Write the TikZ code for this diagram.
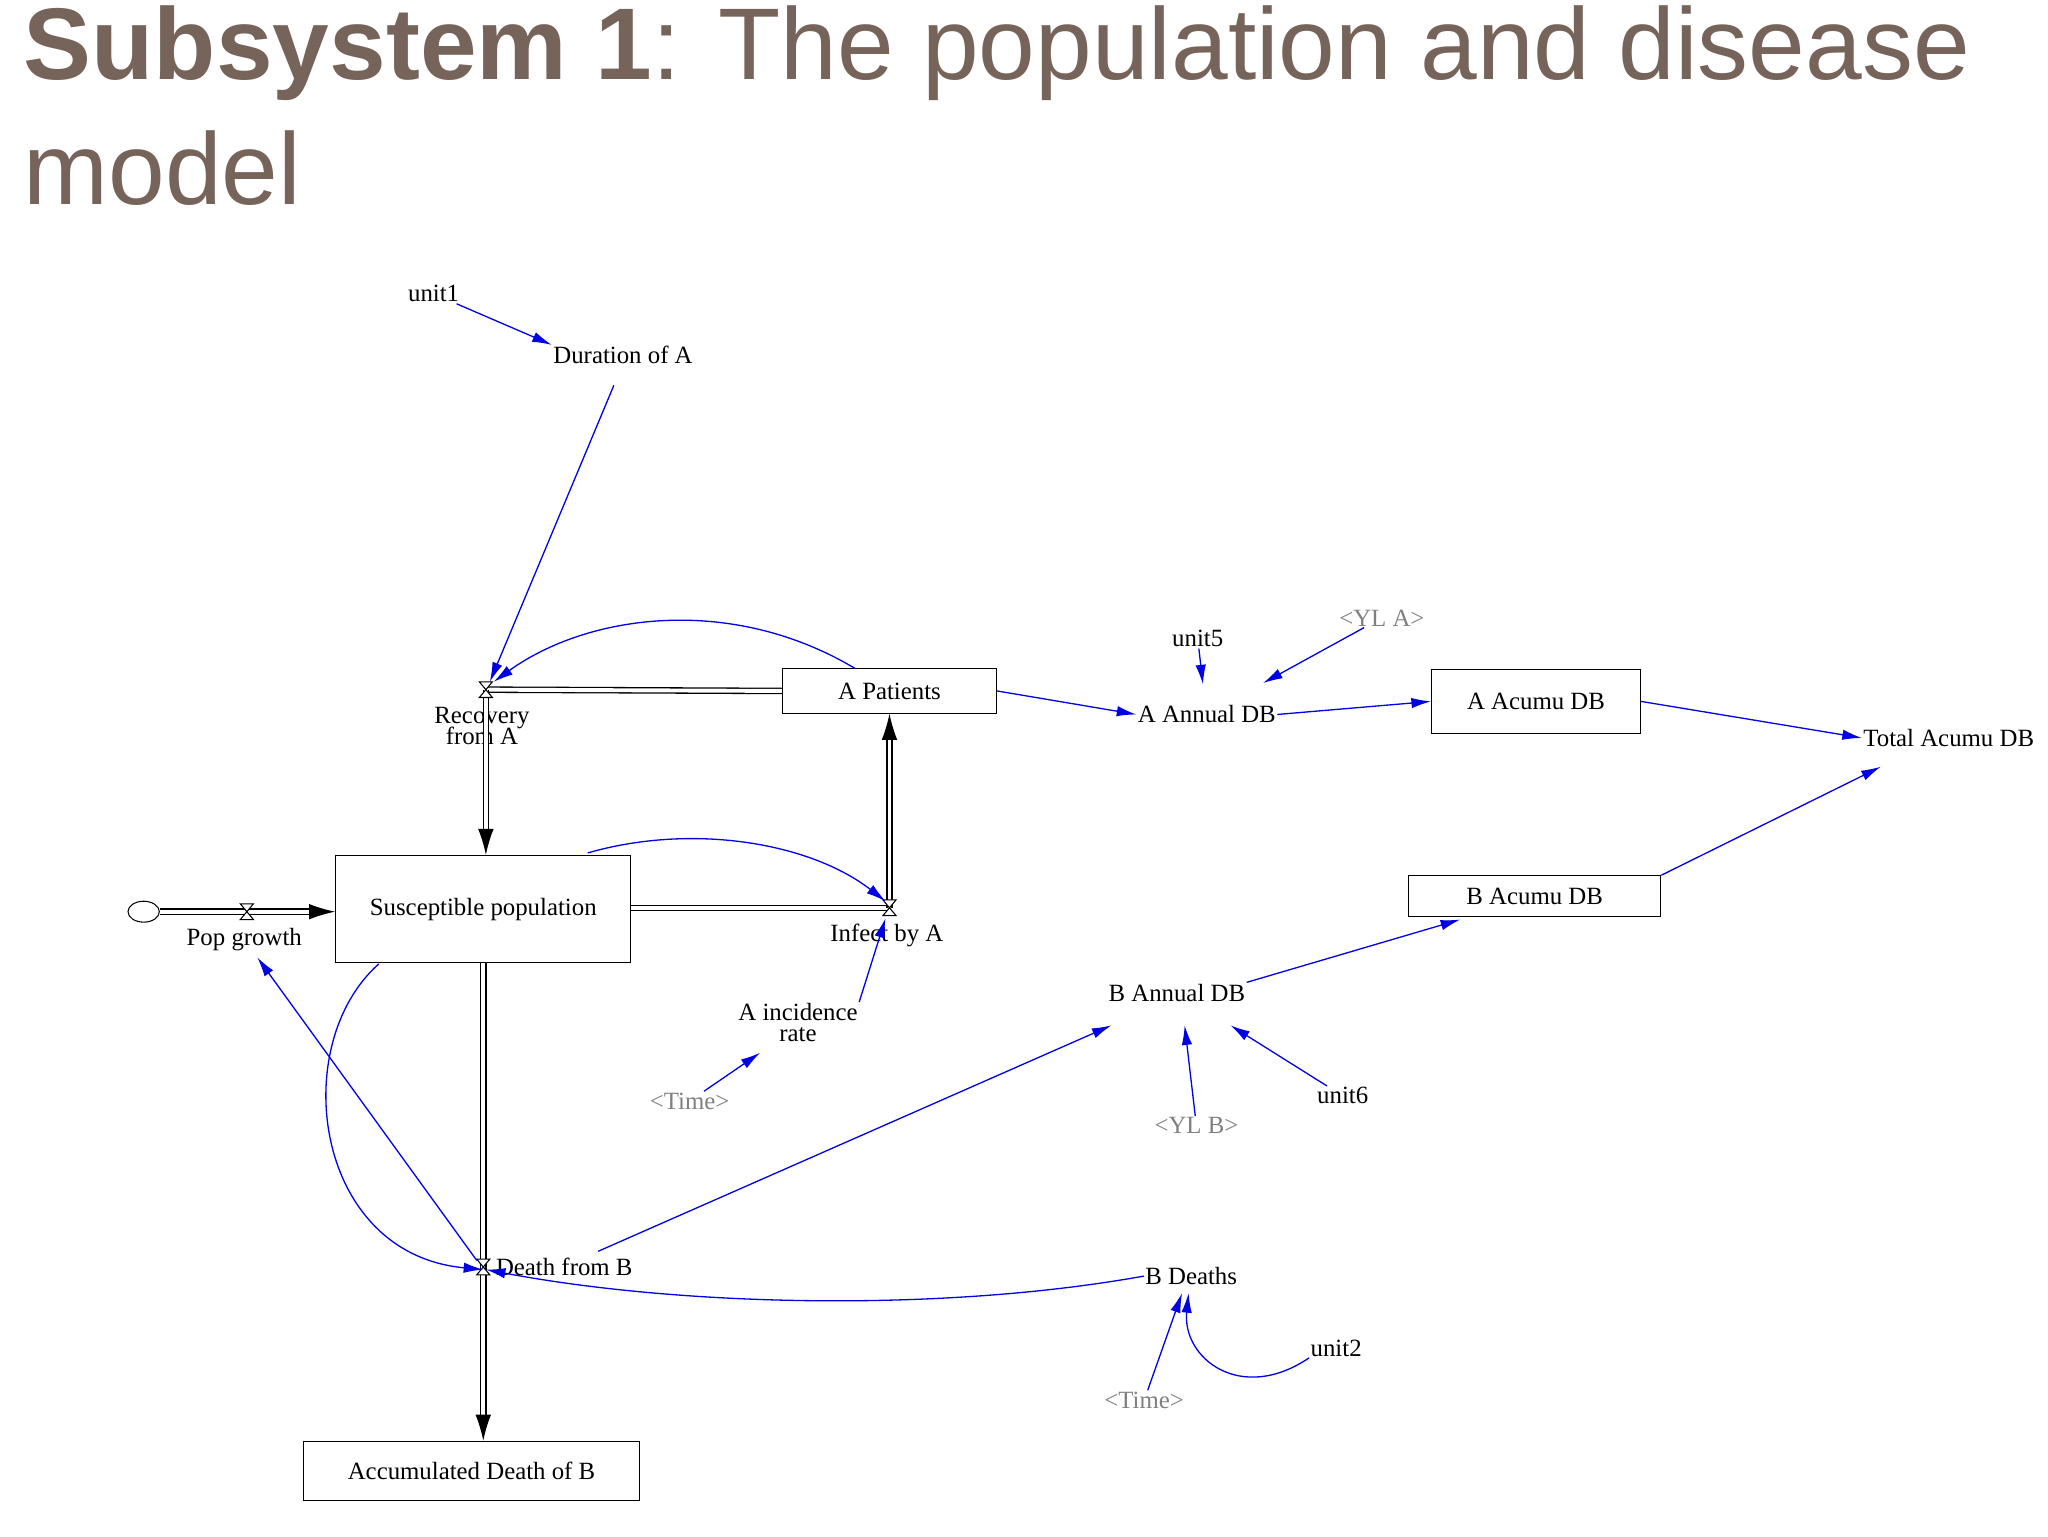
\documentclass[tikz,border=0pt]{standalone}
\usepackage{fontspec}
\setmainfont{Liberation Serif}
\newfontfamily\ttlfont{Liberation Sans}
\usetikzlibrary{arrows.meta,calc,shapes.geometric}
\definecolor{ttl}{RGB}{118,100,90}
\definecolor{lnk}{RGB}{0,0,230}
\begin{document}
\begin{tikzpicture}[x=1pt,y=-1pt,
  lab/.style={font=\fontsize{19}{20}\selectfont,inner sep=1pt,align=center},
  gray/.style={lab,text=gray},
  box/.style={draw,thick,lab,minimum height=34pt,inner sep=4pt},
  link/.style={lnk,line width=1pt,-{Latex[length=15pt,width=8pt]}},
  flow/.style={double,double distance=3pt,line width=1pt},
  flowa/.style={flow,-{Latex[length=20pt,width=12pt]}}]
\useasboundingbox (0,0) rectangle (1568,1176);
\node[anchor=north west,text=ttl,font=\ttlfont\fontsize{78}{96}\selectfont,align=left,inner sep=0pt] (title) at (18,4)
 {\textbf{Subsystem 1}: The population and disease\\model};
% stocks
\node[box,minimum width=164pt] (AP) at (681,529) {A Patients};
\node[box,minimum width=160pt,minimum height=49pt] (AAc) at (1176,537) {A Acumu DB};
\node[box,minimum width=193pt,minimum height=31pt] (BAc) at (1175,686) {B Acumu DB};
\node[box,minimum width=226pt,minimum height=82pt] (S) at (370,696) {Susceptible population};
\node[box,minimum width=257pt,minimum height=45pt] (AD) at (361,1126) {Accumulated Death of B};
% aux
\node[lab] (u1) at (332,225) {unit1};
\node[lab] (dur) at (477,272) {Duration of A};
\node[lab] (rec) at (369,556) {Recovery\\[-4pt]from A};
\node[lab] (aad) at (924,547) {A Annual DB};
\node[lab] (u5) at (917,489) {unit5};
\node[gray] (yla) at (1058,473) {<YL A>};
\node[lab] (tot) at (1492,565) {Total Acumu DB};
\node[lab] (bad) at (901,760) {B Annual DB};
\node[gray] (ylb) at (916,862) {<YL B>};
\node[lab] (u6) at (1028,839) {unit6};
\node[lab] (pop) at (187,719) {Pop growth};
\node[lab] (inf) at (679,716) {Infect by A};
\node[lab] (inc) at (611,783) {A incidence\\[-4pt]rate};
\node[gray] (t1) at (528,843) {<Time>};
\node[lab] (dfb) at (432,970) {Death from B};
\node[lab] (bd) at (912,977) {B Deaths};
\node[lab] (u2) at (1023,1032) {unit2};
\node[gray] (t2) at (876,1072) {<Time>};
% valves and cloud
\coordinate (vr) at (372,528);
\coordinate (vp) at (189,698);
\coordinate (vi) at (681,695);
\coordinate (vd) at (370,970);
\node[draw,ellipse,minimum width=24pt,minimum height=16pt,inner sep=0pt,thick] (cl) at (110,698) {};
% flows
\draw[flow] (AP.west) -- (vr);
\draw[flowa] (vr) -- (vr |- S.north);
\draw[flowa] (cl.east) -- (S.west |- vp);
\draw[flow] (S.east |- vi) -- (vi);
\draw[flowa] (vi) -- (AP.south -| vi);
\draw[flowa] (S.south) -- (AD.north -| S.south);
\foreach \v in {vr,vp,vi,vd} \draw[thick,fill=white] ($(\v)+(-5,-6)$) -- ($(\v)+(5,-6)$) -- ($(\v)+(-5,6)$) -- ($(\v)+(5,6)$) -- cycle;
% links
\draw[link] (u1) -- (dur.north west);
\draw[link] (470,295) -- (375,522);
\draw[link] (655,512) .. controls (560,455) and (450,470) .. (378,522);
\draw[link] (AP.east) -- (aad.west);
\draw[link] (u5) -- (921,524);
\draw[link] (yla) -- (967,523);
\draw[link] (aad.east) -- (AAc.west);
\draw[link] (AAc.east) -- (tot.west);
\draw[link] (BAc.north east) -- (1440,587);
\draw[link] (bad.north east) -- (1118,704);
\draw[link] (ylb) -- (907,785);
\draw[link] (u6) -- (942,785);
\draw[link] (450,653) .. controls (530,630) and (620,645) .. (678,690);
\draw[link] (inc.north east) -- (678,703);
\draw[link] (t1) -- (582,806);
\draw[link] (458,958) -- (851,785);
\draw[link] (bd.west) .. controls (720,1005) and (520,1000) .. (372,972);
\draw[link] (290,738) .. controls (220,800) and (240,960) .. (370,972);
\draw[link] (365,965) -- (197,733);
\draw[link] (t2) -- (905,990);
\draw[link] (u2.south west) .. controls (950,1075) and (905,1040) .. (910,990);
\end{tikzpicture}
\end{document}
